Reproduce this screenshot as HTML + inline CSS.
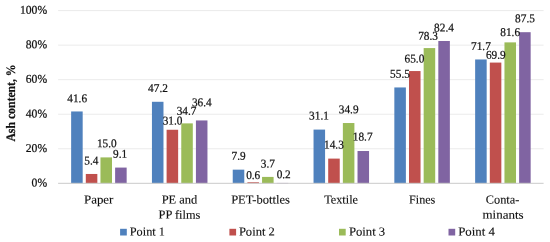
<!DOCTYPE html>
<html><head><meta charset="utf-8"><title>Ash content chart</title>
<style>
html,body{margin:0;padding:0;background:#fff;}
svg{display:block;font-family:"Liberation Serif","DejaVu Serif",serif;font-size:11.9px;text-rendering:geometricPrecision;}
text{fill:#111;stroke:#111;stroke-width:0.22px;}
.l{font-size:12.2px;stroke-width:0.12px;}
.g{stroke:#ebebeb;stroke-width:1;}
.ax{stroke:#cacaca;stroke-width:1;}
.m{text-anchor:middle;}
.e{text-anchor:end;}
.b{font-weight:bold;font-size:13px;stroke-width:0.2px;}
</style></head><body>
<svg width="550" height="242" viewBox="0 0 550 242">
<rect width="550" height="242" fill="#fff"/>
<line class="g" x1="58.10" x2="543.60" y1="148.76" y2="148.76"/>
<line class="g" x1="58.10" x2="543.60" y1="114.22" y2="114.22"/>
<line class="g" x1="58.10" x2="543.60" y1="79.68" y2="79.68"/>
<line class="g" x1="58.10" x2="543.60" y1="45.14" y2="45.14"/>
<line class="g" x1="58.10" x2="543.60" y1="10.60" y2="10.60"/>
<rect x="71.14" y="111.46" width="11.54" height="71.84" fill="#4F81BD"/>
<rect x="85.80" y="173.97" width="11.54" height="9.33" fill="#C0504D"/>
<rect x="100.46" y="157.40" width="11.54" height="25.91" fill="#9BBB59"/>
<rect x="115.12" y="167.58" width="11.54" height="15.72" fill="#8064A2"/>
<rect x="151.94" y="101.79" width="11.54" height="81.51" fill="#4F81BD"/>
<rect x="166.60" y="129.76" width="11.54" height="53.54" fill="#C0504D"/>
<rect x="181.26" y="123.37" width="11.54" height="59.93" fill="#9BBB59"/>
<rect x="195.92" y="120.44" width="11.54" height="62.86" fill="#8064A2"/>
<rect x="232.74" y="169.66" width="11.54" height="13.64" fill="#4F81BD"/>
<rect x="247.40" y="182.26" width="11.54" height="1.04" fill="#C0504D"/>
<rect x="262.06" y="176.91" width="11.54" height="6.39" fill="#9BBB59"/>
<rect x="276.72" y="182.95" width="11.54" height="0.35" fill="#8064A2"/>
<rect x="313.54" y="129.59" width="11.54" height="53.71" fill="#4F81BD"/>
<rect x="328.20" y="158.60" width="11.54" height="24.70" fill="#C0504D"/>
<rect x="342.86" y="123.03" width="11.54" height="60.27" fill="#9BBB59"/>
<rect x="357.52" y="151.01" width="11.54" height="32.29" fill="#8064A2"/>
<rect x="394.34" y="87.45" width="11.54" height="95.85" fill="#4F81BD"/>
<rect x="409.00" y="71.05" width="11.54" height="112.26" fill="#C0504D"/>
<rect x="423.66" y="48.08" width="11.54" height="135.22" fill="#9BBB59"/>
<rect x="438.32" y="41.00" width="11.54" height="142.30" fill="#8064A2"/>
<rect x="475.14" y="59.47" width="11.54" height="123.83" fill="#4F81BD"/>
<rect x="489.80" y="62.58" width="11.54" height="120.72" fill="#C0504D"/>
<rect x="504.46" y="42.38" width="11.54" height="140.92" fill="#9BBB59"/>
<rect x="519.12" y="32.19" width="11.54" height="151.11" fill="#8064A2"/>
<line class="ax" x1="58.10" x2="543.60" y1="183.30" y2="183.30"/>
<text class="e" transform="translate(47.1,186.50) skewY(0.1) scale(0.9781,1)">0%</text>
<text class="e" transform="translate(47.1,151.96) skewY(0.1) scale(0.9781,1)">20%</text>
<text class="e" transform="translate(47.1,117.42) skewY(0.1) scale(0.9781,1)">40%</text>
<text class="e" transform="translate(47.1,82.88) skewY(0.1) scale(0.9781,1)">60%</text>
<text class="e" transform="translate(47.1,48.34) skewY(0.1) scale(0.9781,1)">80%</text>
<text class="e" transform="translate(47.1,13.80) skewY(0.1) scale(0.9781,1)">100%</text>
<text class="m" transform="translate(77.2,102.2) skewY(0.1) scale(0.9496,1)">41.6</text>
<text class="m" transform="translate(91.3,164.6) skewY(0.1) scale(0.9496,1)">5.4</text>
<text class="m" transform="translate(106.8,147.2) skewY(0.1) scale(0.9496,1)">15.0</text>
<text class="m" transform="translate(120.1,157.8) skewY(0.1) scale(0.9496,1)">9.1</text>
<text class="m" transform="translate(158.0,91.9) skewY(0.1) scale(0.9496,1)">47.2</text>
<text class="m" transform="translate(172.6,124.4) skewY(0.1) scale(0.9496,1)">31.0</text>
<text class="m" transform="translate(186.6,114.8) skewY(0.1) scale(0.9496,1)">34.7</text>
<text class="m" transform="translate(201.8,106.3) skewY(0.1) scale(0.9496,1)">36.4</text>
<text class="m" transform="translate(238.6,159.8) skewY(0.1) scale(0.9496,1)">7.9</text>
<text class="m" transform="translate(253.2,179.0) skewY(0.1) scale(0.9496,1)">0.6</text>
<text class="m" transform="translate(267.9,167.4) skewY(0.1) scale(0.9496,1)">3.7</text>
<text class="m" transform="translate(283.7,178.2) skewY(0.1) scale(0.9496,1)">0.2</text>
<text class="m" transform="translate(319.0,119.5) skewY(0.1) scale(0.9496,1)">31.1</text>
<text class="m" transform="translate(333.9,148.6) skewY(0.1) scale(0.9496,1)">14.3</text>
<text class="m" transform="translate(348.7,113.2) skewY(0.1) scale(0.9496,1)">34.9</text>
<text class="m" transform="translate(362.7,140.5) skewY(0.1) scale(0.9496,1)">18.7</text>
<text class="m" transform="translate(400.0,77.8) skewY(0.1) scale(0.9496,1)">55.5</text>
<text class="m" transform="translate(414.4,62.5) skewY(0.1) scale(0.9496,1)">65.0</text>
<text class="m" transform="translate(428.1,39.8) skewY(0.1) scale(0.9496,1)">78.3</text>
<text class="m" transform="translate(444.0,31.5) skewY(0.1) scale(0.9496,1)">82.4</text>
<text class="m" transform="translate(480.9,49.9) skewY(0.1) scale(0.9496,1)">71.7</text>
<text class="m" transform="translate(495.8,58.7) skewY(0.1) scale(0.9496,1)">69.9</text>
<text class="m" transform="translate(510.2,36.1) skewY(0.1) scale(0.9496,1)">81.6</text>
<text class="m" transform="translate(525.0,22.2) skewY(0.1) scale(0.9496,1)">87.5</text>
<text class="l" transform="translate(84.00,203.50) skewY(0.1)" textLength="29.4" lengthAdjust="spacingAndGlyphs">Paper</text>
<text class="l" transform="translate(161.65,203.50) skewY(0.1)" textLength="35.7" lengthAdjust="spacingAndGlyphs">PE and</text>
<text class="l" transform="translate(158.60,218.60) skewY(0.1)" textLength="41.8" lengthAdjust="spacingAndGlyphs">PP films</text>
<text class="l" transform="translate(231.15,203.50) skewY(0.1)" textLength="58.7" lengthAdjust="spacingAndGlyphs">PET-bottles</text>
<text class="l" transform="translate(324.15,203.50) skewY(0.1)" textLength="33.9" lengthAdjust="spacingAndGlyphs">Textile</text>
<text class="l" transform="translate(409.05,203.50) skewY(0.1)" textLength="26.3" lengthAdjust="spacingAndGlyphs">Fines</text>
<text class="l" transform="translate(485.80,203.50) skewY(0.1)" textLength="33.5" lengthAdjust="spacingAndGlyphs">Conta-</text>
<text class="l" transform="translate(482.50,218.60) skewY(0.1)" textLength="41.1" lengthAdjust="spacingAndGlyphs">minants</text>
<rect x="120.1" y="228.8" width="6.7" height="6.7" fill="#4F81BD"/>
<text class="l" transform="translate(129.80,235.5) skewY(0.1)" textLength="35.1" lengthAdjust="spacingAndGlyphs">Point 1</text>
<rect x="229.4" y="228.8" width="6.7" height="6.7" fill="#C0504D"/>
<text class="l" transform="translate(238.90,235.5) skewY(0.1)" textLength="35.9" lengthAdjust="spacingAndGlyphs">Point 2</text>
<rect x="339.0" y="228.8" width="6.7" height="6.7" fill="#9BBB59"/>
<text class="l" transform="translate(348.90,235.5) skewY(0.1)" textLength="36.3" lengthAdjust="spacingAndGlyphs">Point 3</text>
<rect x="448.5" y="228.8" width="6.7" height="6.7" fill="#8064A2"/>
<text class="l" transform="translate(458.20,235.5) skewY(0.1)" textLength="36.8" lengthAdjust="spacingAndGlyphs">Point 4</text>
<text class="b" transform="translate(14.5,141.6) rotate(-90)" textLength="77.2" lengthAdjust="spacingAndGlyphs">Ash content, %</text>
</svg></body></html>
